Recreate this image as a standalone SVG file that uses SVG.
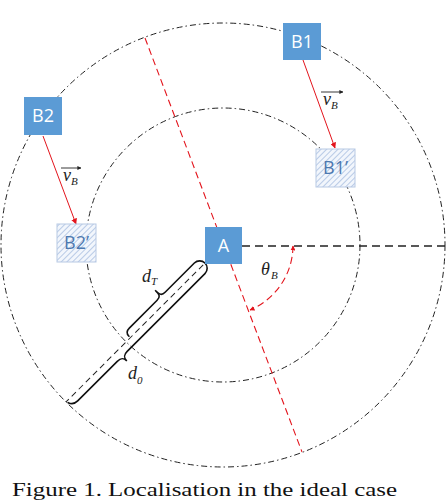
<svg xmlns="http://www.w3.org/2000/svg" width="448" height="502" viewBox="0 0 448 502">
<defs>
<pattern id="hatch" width="4" height="4" patternUnits="userSpaceOnUse" patternTransform="rotate(45)">
<rect width="4" height="4" fill="#f2f6fc"/>
<line x1="0" y1="0" x2="0" y2="4" stroke="#7f9fd0" stroke-width="1"/>
</pattern>
<marker id="ah" viewBox="0 0 10 10" refX="9" refY="5" markerWidth="6" markerHeight="6" orient="auto" markerUnits="userSpaceOnUse">
<path d="M0,0 L10,5 L0,10 z" fill="#e3141c"/>
</marker>
<marker id="ahs" viewBox="0 0 10 10" refX="9" refY="5" markerWidth="5" markerHeight="5" orient="auto-start-reverse" markerUnits="userSpaceOnUse">
<path d="M0,0 L10,5 L0,10 z" fill="#e3141c"/>
</marker>
<marker id="vec" viewBox="0 0 10 10" refX="9" refY="5" markerWidth="4" markerHeight="4" orient="auto" markerUnits="userSpaceOnUse">
<path d="M0,0 L10,5 L0,10 z" fill="#222"/>
</marker>
</defs>
<style>
.circ{fill:none;stroke:#222;stroke-width:1;stroke-dasharray:6 3 1.5 3}
.red{fill:none;stroke:#e3141c;stroke-width:1.1;stroke-dasharray:7 4}
.mv{fill:none;stroke:#e3141c;stroke-width:1}
.box{fill:#5b9bd5}
.bt{font-family:"Open Sans","Liberation Sans",sans-serif;font-size:18px;fill:#fff;text-anchor:middle}
.hb{fill:url(#hatch);stroke:#b8c9e4;stroke-width:1}
.ht{font-family:"Open Sans","Liberation Sans",sans-serif;font-size:18px;fill:#4d79b0;text-anchor:middle}
.m{font-family:"Liberation Serif",serif;font-style:italic;font-size:18px;fill:#222}
.ms{font-family:"Liberation Serif",serif;font-style:italic;font-size:11px;fill:#222}
.cap{stroke:#111;stroke-width:1.6;fill:none;stroke-linecap:round}
.capt{font-family:"Liberation Serif",serif;font-size:19px;fill:#111}
</style>
<rect width="448" height="502" fill="#fff"/>
<g id="circles">
<circle class="circ" cx="223" cy="245" r="222"/>
<circle class="circ" cx="223" cy="245" r="137"/>
</g>
<g id="connectors">
<line class="red" x1="145" y1="38" x2="302" y2="452"/>
<line x1="242" y1="246" x2="447" y2="246" stroke="#222" stroke-width="1.6" stroke-dasharray="8 5"/>
<path class="red" d="M293,246 A70,70 0 0 1 250,310" marker-start="url(#ahs)" marker-end="url(#ahs)" stroke-dasharray="4 3"/>
<line class="mv" x1="43" y1="136" x2="76" y2="224" marker-end="url(#ah)"/>
<line class="mv" x1="303" y1="60" x2="335" y2="148" marker-end="url(#ah)"/>
</g>
<g id="rod" transform="translate(223,245) rotate(135)">
<line x1="28" y1="0" x2="222" y2="0" stroke="#222" stroke-width="1" stroke-dasharray="6 4"/>
<path class="cap" d="M131,2 C131,5 129,7.5 125,7.5 L86,7.5 C81,7.5 80,9 80,16 C80,9 79,7.5 74,7.5 L33,7.5 A7.5,7.5 0 0 1 33,-7.5 L143,-7.5 C148,-7.5 150,-9 150,-14 C150,-9 152,-7.5 157,-7.5 L213,-7.5 C218,-7.5 220,-5 221,-2"/>
</g>
<g id="A"><rect class="box" x="205" y="227" width="37" height="37"/><text class="bt" x="223.5" y="252">A</text></g>
<g id="B1"><rect class="box" x="283" y="23" width="38" height="37"/><text class="bt" x="302" y="48">B1</text></g>
<g id="B2"><rect class="box" x="24" y="97" width="38" height="38"/><text class="bt" x="43" y="122">B2</text></g>
<g id="B1p"><rect class="hb" x="316" y="149" width="39" height="38"/><text class="ht" x="335.5" y="174">B1’</text></g>
<g id="B2p"><rect class="hb" x="57" y="224" width="39" height="38"/><text class="ht" x="76.5" y="249">B2’</text></g>
<g id="labels">
<text class="m" x="63" y="181">v</text><text class="ms" x="71" y="185">B</text>
<line x1="61" y1="168" x2="81" y2="168" stroke="#222" stroke-width="0.9" marker-end="url(#vec)"/>
<text class="m" x="323" y="105">v</text><text class="ms" x="331" y="109">B</text>
<line x1="321" y1="92" x2="343" y2="92" stroke="#222" stroke-width="0.9" marker-end="url(#vec)"/>
<text class="m" x="261" y="275">θ</text><text class="ms" x="271" y="279">B</text>
<text class="m" x="142" y="282">d</text><text class="ms" x="151" y="285">T</text>
<text class="m" x="128" y="379">d</text><text class="ms" x="137" y="384">0</text>
</g>
<text class="capt" x="12" y="496" textLength="385" lengthAdjust="spacingAndGlyphs">Figure 1. Localisation in the ideal case</text>
</svg>
